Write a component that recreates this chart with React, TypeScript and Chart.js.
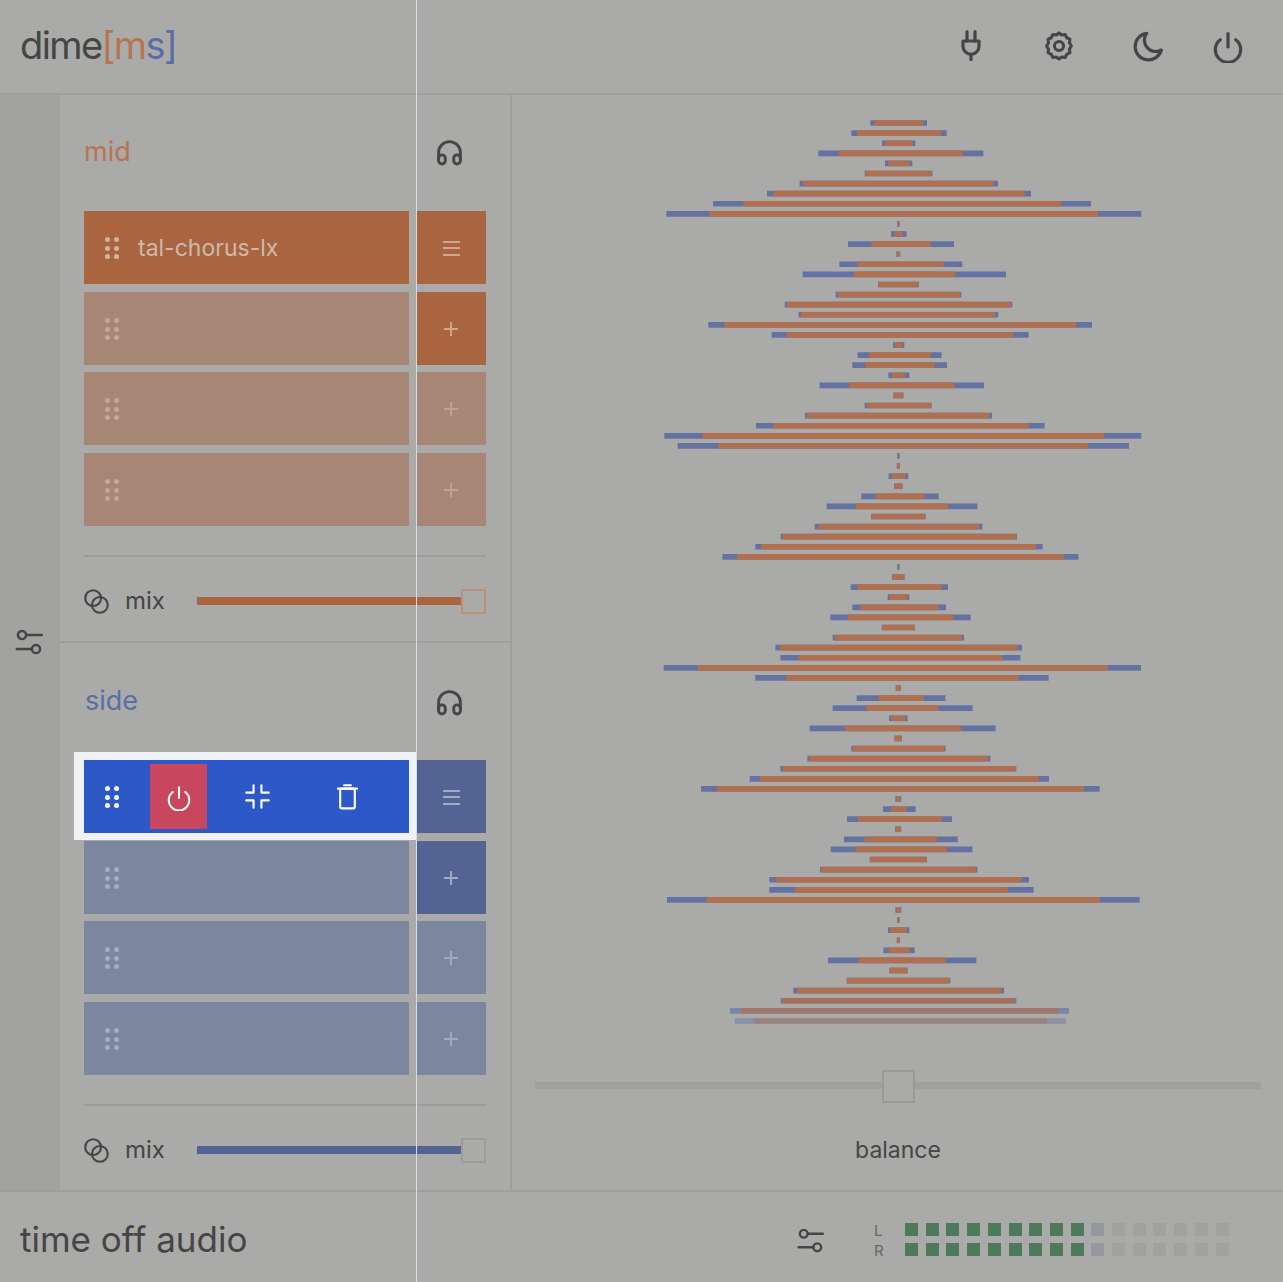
import React, { useEffect, useRef } from 'react';
import { Chart, registerables } from 'chart.js';

Chart.register(...registerables);

// one row per band, levels left/right of the balance centre
const sideLeft = [-83,-140,-48,-239,-39,-100,-295,-393,-555,-695,-3,-21,-150,-5,-176,-286,-60,-187,-340,-298,-569,-379,-15,-121,-137,-29,-235,-14,-100,-279,-426,-701,-661,-3,-4,-28,-12,-110,-214,-81,-250,-352,-428,-527,-3,-18,-142,-31,-137,-203,-49,-196,-368,-353,-703,-428,-7,-124,-196,-27,-265,-11,-140,-272,-353,-445,-591,-8,-45,-153,-9,-162,-202,-85,-234,-386,-386,-693,-8,-3,-30,-4,-44,-210,-26,-154,-314,-352,-504,-489];
const midLeft = [-71,-123,-39,-178,-29,-98,-285,-375,-464,-567,-2,-10,-80,-4,-122,-132,-59,-180,-333,-291,-521,-334,-9,-87,-98,-18,-147,-14,-95,-273,-375,-587,-539,-1,-3,-19,-10,-68,-127,-80,-238,-347,-411,-483,-1,-15,-122,-25,-112,-151,-48,-190,-354,-298,-601,-335,-6,-58,-94,-19,-159,-10,-135,-266,-345,-414,-543,-5,-20,-120,-8,-100,-127,-84,-231,-365,-308,-574,-5,-2,-23,-3,-28,-119,-25,-153,-303,-347,-471,-432];
const midRight = [73,127,42,193,33,98,285,378,487,598,2,12,97,4,134,170,60,183,337,290,532,344,11,97,108,19,168,14,98,273,390,617,567,1,3,20,10,78,148,80,242,352,413,495,1,15,128,27,119,164,48,190,357,312,627,360,6,75,120,20,187,9,137,269,351,421,555,5,24,130,7,115,145,84,231,370,327,604,5,2,25,3,33,141,26,152,307,347,480,445];
const sideRight = [85,144,50,254,41,101,298,397,577,728,3,24,166,5,191,322,61,188,341,299,580,390,17,129,145,32,256,14,99,280,438,728,691,3,4,29,12,120,236,81,251,355,432,539,3,18,148,32,142,216,49,196,370,365,727,450,7,140,222,27,291,10,141,275,353,451,603,8,51,160,8,177,221,85,236,391,405,723,8,3,32,4,48,233,27,155,316,353,511,502];
const bands = sideLeft.map((_, i) => String(i + 1));
const meterLit = 9;
const meterDim = 1;
const meterTotal = 16;

const BG = '#aaaaa8';
const INK = '#454545';
const ORANGE = '#a8653f';
const ORANGE_DIM = '#a88676';
const BLUE = '#526394';
const BLUE_DIM = '#7d869f';
const FONT = 'Inter, "Noto Sans", sans-serif';

function barColor(rgb: string) {
  // the newest rows at the bottom are still fading in
  return (ctx: any) => {
    if (ctx.dataIndex === 89) return `rgba(${rgb},0.45)`;
    if (ctx.dataIndex === 88) return `rgba(${rgb},0.65)`;
    if (ctx.dataIndex === 87) return `rgba(${rgb},0.85)`;
    return `rgb(${rgb})`;
  };
}

const BalanceChart = () => {
  const canvasRef = useRef<HTMLCanvasElement | null>(null);

  useEffect(() => {
    if (!canvasRef.current) return;
    const chart = new Chart(canvasRef.current, {
      type: 'bar',
      data: {
        labels: bands,
        datasets: [
          { label: 'mid', data: midLeft.map((v, i) => [v, midRight[i]]) as any, backgroundColor: barColor('176,112,79'), barThickness: 5 },
          { label: 'side', data: sideLeft.map((v, i) => [v, sideRight[i]]) as any, backgroundColor: barColor('100,114,162'), barThickness: 5 },
        ],
      },
      options: {
        indexAxis: 'y',
        responsive: false,
        animation: false,
        layout: { padding: 0 },
        plugins: { legend: { display: false }, tooltip: { enabled: false } },
        scales: {
          x: { display: false, min: -1141, max: 1139 },
          y: { display: false, stacked: false, offset: true },
        },
        datasets: { bar: { grouped: false } },
      } as any,
    });
    return () => chart.destroy();
  }, []);

  return <canvas ref={canvasRef} width={760} height={908} style={{ position: 'absolute', left: 518, top: 118, width: 760, height: 908 }} />;
};

const Box = ({ x, y, w, h, bg, style, children }: any) => (
  <div style={{ position: 'absolute', left: x, top: y, width: w, height: h, background: bg, ...style }}>{children}</div>
);

const Label = ({ x, y, size, color, children, center }: any) => (
  <div style={{ position: 'absolute', left: x, top: y, fontSize: size, color, lineHeight: 1, whiteSpace: 'nowrap', fontFamily: FONT, transform: center ? 'translate(-50%, -50%)' : 'translateY(-50%)' }}>{children}</div>
);

const Svg = ({ x, y, s, color = INK, sw = 2.4, children }: any) => (
  <svg style={{ position: 'absolute', left: x - s / 2, top: y - s / 2 }} width={s} height={s} viewBox="0 0 24 24" fill="none" stroke={color} strokeWidth={sw} strokeLinecap="round" strokeLinejoin="round">{children}</svg>
);

const Power = (p: any) => (
  <Svg {...p}><path d="M12 2v10" /><path d="M6.2 6.5a9.5 9.5 0 1 0 11.6 0" /></Svg>
);
const Phones = (p: any) => (
  <Svg {...p}><path d="M3 18v-6a9 9 0 0 1 18 0v6" /><rect x="3" y="14" width="5.5" height="7.5" rx="2.7" /><rect x="15.5" y="14" width="5.5" height="7.5" rx="2.7" /></Svg>
);
const Sliders = (p: any) => (
  <Svg {...p}><circle cx="6" cy="6" r="3.5" /><path d="M9.5 6H23" /><circle cx="18" cy="18" r="3.5" /><path d="M1.5 18h13" /></Svg>
);
const Rings = (p: any) => (
  <Svg {...p}><circle cx="9" cy="9" r="7" /><circle cx="15" cy="15" r="7" /></Svg>
);

const Dots = ({ cy, color }: any) => (
  <>
    {[-8.3, 0, 8.3].flatMap((dy) => [107, 116.5].map((cx) => (
      <div key={`${dy}-${cx}`} style={{ position: 'absolute', left: cx - 2.5, top: cy + dy - 2.5, width: 5, height: 5, borderRadius: 3, background: color }} />
    )))}
  </>
);

const Bars = ({ cy, color }: any) => (
  <>
    {[-6.5, 0, 6.5].map((dy) => <Box key={dy} x={443} y={cy + dy - 1} w={17} h={2} bg={color} />)}
  </>
);

const Plus = ({ cy, color }: any) => (
  <>
    <Box x={444} y={cy - 1} w={14} h={2} bg={color} />
    <Box x={450} y={cy - 7} w={2} h={14} bg={color} />
  </>
);

const mixRow = (y: number, color: string, handle: string) => (
  <>
    <Rings x={96.5} y={y} s={27} sw={1.9} />
    <Label x={125} y={y} size={24} color={INK}>mix</Label>
    <Box x={197} y={y - 4} w={265} h={8} bg={color} />
    <Box x={461} y={y - 12} w={25} h={25} style={{ border: `2px solid ${handle}`, boxSizing: 'border-box' }} />
  </>
);

const slotRows = [211, 292, 372, 453];
const sideRows = [760, 841, 921, 1002];

export default function App() {
  useEffect(() => {
    document.body.style.margin = '0';
    document.body.style.overflow = 'hidden';
  }, []);

  return (
    <div style={{ position: 'absolute', left: 0, top: 0, width: 1283, height: 1282, background: BG, overflow: 'hidden', fontFamily: FONT }}>
      {/* frame */}
      <Box x={0} y={94} w={60} h={1096} bg="#a2a2a0" />
      <Box x={0} y={93} w={1283} h={2} bg="#9e9e9c" />
      <Box x={0} y={1190} w={1283} h={2} bg="#9e9e9c" />
      <Box x={510} y={95} w={2} h={1095} bg="#9e9e9c" />
      <Box x={60} y={641} w={450} h={2} bg="#9e9e9c" />

      {/* header */}
      <div style={{ position: 'absolute', left: 20, top: 22, fontSize: 38, lineHeight: '46px', letterSpacing: -1.6, color: INK, whiteSpace: 'nowrap' }}>
        dime<span style={{ color: '#b8734f' }}>[m</span><span style={{ color: '#5a6ea6' }}>s]</span>
      </div>
      <Svg x={971} y={45} s={32}>
        <path d="M9 2v7M15 2v7" /><path d="M6 9h12v4a6 6 0 0 1-12 0z" /><path d="M12 19v4" />
      </Svg>
      <Svg x={1059} y={46} s={32} sw={2.3}>
        <path d="M12 2.2l2 1.6 2.6-.4 1.2 2.4 2.4 1.1-.4 2.7 1.5 2.4-1.5 2.4.4 2.6-2.4 1.2-1.2 2.4-2.6-.4-2 1.5-2-1.5-2.6.4-1.2-2.4-2.4-1.2.4-2.6L2.7 12l1.5-2.4-.4-2.7 2.4-1.1 1.2-2.4 2.6.4z" />
        <circle cx="12" cy="12" r="3.4" />
      </Svg>
      <Svg x={1148} y={46} s={32}>
        <path d="M11 2.5A10 10 0 1 0 22 15a8.5 8.5 0 0 1-11-12.5z" />
      </Svg>
      <Power x={1228} y={47} s={32} />

      {/* sidebar */}
      <Sliders x={29} y={642} s={28} sw={2.1} />

      {/* mid */}
      <Label x={84} y={151} size={27} color="#b8734f">mid</Label>
      <Phones x={449} y={152} s={29} />
      {slotRows.map((y, i) => (
        <React.Fragment key={y}>
          <Box x={84} y={y} w={325} h={73} bg={i === 0 ? ORANGE : ORANGE_DIM} />
          <Box x={417} y={y} w={69} h={73} bg={i < 2 ? ORANGE : ORANGE_DIM} />
          <Dots cy={y + 37} color={i === 0 ? '#cfb3a3' : '#c0a89c'} />
          {i === 0 ? <Bars cy={y + 37} color="#cfa68e" /> : <Plus cy={y + 37} color={i === 1 ? '#cfa68e' : '#bea294'} />}
        </React.Fragment>
      ))}
      <Label x={138} y={248} size={23} color="#cfb9ac">tal-chorus-lx</Label>
      <Box x={84} y={555} w={402} h={2} bg="#9c9c9a" />
      {mixRow(601, ORANGE, '#b8917c')}

      {/* side */}
      <Label x={85} y={700} size={27} color="#5a6ea6">side</Label>
      <Phones x={449} y={702} s={29} />
      {sideRows.map((y, i) => (
        <React.Fragment key={y}>
          {i > 0 && <Box x={84} y={y} w={325} h={73} bg={BLUE_DIM} />}
          <Box x={417} y={y} w={69} h={73} bg={i < 2 ? BLUE : BLUE_DIM} />
          {i > 0 && <Dots cy={y + 37} color="#a8adbb" />}
          {i === 0 ? <Bars cy={y + 37} color="#a3abc4" /> : <Plus cy={y + 37} color={i === 1 ? '#a3abc4' : '#a4a9b8'} />}
        </React.Fragment>
      ))}
      <Box x={84} y={1104} w={402} h={2} bg="#9c9c9a" />
      {mixRow(1150, BLUE, '#9c9c9a')}

      {/* selected slot */}
      <Box x={74} y={752} w={342} h={88} bg="#eff2f5" />
      <Box x={84} y={760} w={325} h={73} bg="#2d58c8" />
      <Dots cy={797} color="#ffffff" />
      <Box x={150} y={764} w={57} h={65} bg="#c8475f" />
      <Power x={179} y={798} s={26} color="#ffffff" sw={1.9} />
      <Svg x={257} y={796} s={27} color="#ffffff" sw={1.9}>
        <path d="M2 8.5h6.5V2M22 8.5h-6.5V2M2 15.5h6.5V22M22 15.5h-6.5V22" />
      </Svg>
      <Svg x={347} y={796} s={27} color="#ffffff" sw={1.9}>
        <path d="M3.5 5h17M9 2h6" /><rect x="5.5" y="5" width="13" height="17.5" rx="1.5" />
      </Svg>

      {/* cursor line */}
      <Box x={416} y={0} w={1} h={1282} bg="#d9dce4" />

      {/* balance */}
      <BalanceChart />
      <Box x={535} y={1082} w={726} h={7} bg="#a0a09e" />
      <Box x={882} y={1070} w={33} h={33} bg={BG} style={{ border: '2px solid #999997', boxSizing: 'border-box' }} />
      <Label x={898} y={1150} size={23} color={INK} center>balance</Label>

      {/* footer */}
      <Label x={20} y={1239} size={35} color={INK}>time off audio</Label>
      <Sliders x={810} y={1240} s={27} sw={2.1} />
      <Label x={874} y={1230} size={15} color="#666664">L</Label>
      <Label x={874} y={1250} size={15} color="#666664">R</Label>
      {[1223, 1243].map((y) =>
        Array.from({ length: meterTotal }, (_, i) => (
          <Box key={`${y}-${i}`} x={905 + i * 20.7} y={y} w={13} h={13}
            bg={i < meterLit ? '#4e7a5c' : i < meterLit + meterDim ? '#95999f' : '#a1a19f'} />
        ))
      )}
    </div>
  );
}
